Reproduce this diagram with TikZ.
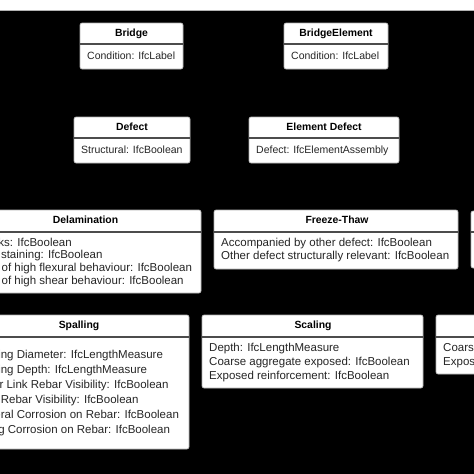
\documentclass[tikz,border=0pt]{standalone}
\usepackage{fontspec}
\setmainfont{Liberation Sans}
\begin{document}
\begin{tikzpicture}[x=1pt,y=-1pt,
	classbox/.style={draw=gray!60,fill=white,rounded corners=2pt,line width=0.6pt},
	divider/.style={draw=black!70,line width=1.1pt},
	title/.style={font=\fontsize{10.4}{12}\selectfont\bfseries,inner sep=0pt,text height=7.5pt,text depth=2pt},
	attr/.style={font=\fontsize{11.5}{13}\selectfont,text=black!85,anchor=west,inner sep=0pt,text height=8pt,text depth=2pt},
	attrsmall/.style={attr,font=\fontsize{10.5}{12}\selectfont}]
	\useasboundingbox (0,0) rectangle (474,474);
	\clip (0,0) rectangle (474,474);
	% background
	\fill[black] (0,10) rectangle (474,474);
	\draw[gray!60] (0,10) -- (474,10);
	% Bridge
	\draw[classbox] (80,23) rectangle (183,69);
	\draw[divider] (80,44) -- (183,44);
	\node[title] (bridge) at (131.5,34) {Bridge};
	\node[attrsmall] (bridgecond) at (87,56.5) {Condition: IfcLabel};
	% BridgeElement
	\draw[classbox] (284,23) rectangle (388,69);
	\draw[divider] (284,44) -- (388,44);
	\node[title] (element) at (336,34) {BridgeElement};
	\node[attrsmall] (elementcond) at (291,56.5) {Condition: IfcLabel};
	% Defect
	\draw[classbox] (74,117) rectangle (190,163);
	\draw[divider] (74,138) -- (190,138);
	\node[title] (defect) at (132,127.5) {Defect};
	\node[attrsmall] (defectstruct) at (81,150) {Structural: IfcBoolean};
	% Element Defect
	\draw[classbox] (249,117) rectangle (399,163);
	\draw[divider] (249,138) -- (399,138);
	\node[title] (eldefect) at (324,127.5) {Element Defect};
	\node[attrsmall] (eldefectattr) at (256,150) {Defect: IfcElementAssembly};
	% Delamination
	\draw[classbox] (-34,210) rectangle (201,293);
	\draw[divider] (-34,232) -- (201,232);
	\node[title] (delam) at (85.5,221) {Delamination};
	\node[attr] (delam1) at (-26,243) {Cracks: IfcBoolean};
	\node[attr] (delam2) at (-26,255.7) {Rust staining: IfcBoolean};
	\node[attr] (delam3) at (-26,268.4) {Area of high flexural behaviour: IfcBoolean};
	\node[attr] (delam4) at (-26,281) {Area of high shear behaviour: IfcBoolean};
	% Freeze-Thaw
	\draw[classbox] (214,210) rectangle (458,269);
	\draw[divider] (214,232) -- (458,232);
	\node[title] (freeze) at (337,221) {Freeze-Thaw};
	\node[attr] (freeze1) at (221,243) {Accompanied by other defect: IfcBoolean};
	\node[attr] (freeze2) at (221,256) {Other defect structurally relevant: IfcBoolean};
	% next class (cut off)
	\draw[classbox] (471,211) rectangle (640,268);
	\draw[divider] (471,232) -- (640,232);
	% Spalling
	\draw[classbox] (-35,315) rectangle (189,449);
	\draw[divider] (-35,337) -- (189,337);
	\node[title] (spall) at (79,326) {Spalling};
	\node[attr] (spall1) at (-27.5,355) {Spalling Diameter: IfcLengthMeasure};
	\node[attr] (spall2) at (-27.5,370) {Spalling Depth: IfcLengthMeasure};
	\node[attr] (spall3) at (-27.5,385) {Shear Link Rebar Visibility: IfcBoolean};
	\node[attr] (spall4) at (-27.5,400) {Main Rebar Visibility: IfcBoolean};
	\node[attr] (spall5) at (-27.5,415) {General Corrosion on Rebar: IfcBoolean};
	\node[attr] (spall6) at (-27.5,430) {Pitting Corrosion on Rebar: IfcBoolean};
	% Scaling
	\draw[classbox] (202,315) rectangle (423,388);
	\draw[divider] (202,337) -- (423,337);
	\node[title] (scal) at (313,326) {Scaling};
	\node[attr] (scal1) at (209,348) {Depth: IfcLengthMeasure};
	\node[attr] (scal2) at (209,362) {Coarse aggregate exposed: IfcBoolean};
	\node[attr] (scal3) at (209,376) {Exposed reinforcement: IfcBoolean};
	% next class (cut off)
	\draw[classbox] (436,315) rectangle (660,374);
	\draw[divider] (436,337) -- (660,337);
	\node[attr] (next1) at (443,348) {Coarse aggregate exposed: IfcBoolean};
	\node[attr] (next2) at (443,362) {Exposed reinforcement: IfcBoolean};
\end{tikzpicture}
\end{document}
